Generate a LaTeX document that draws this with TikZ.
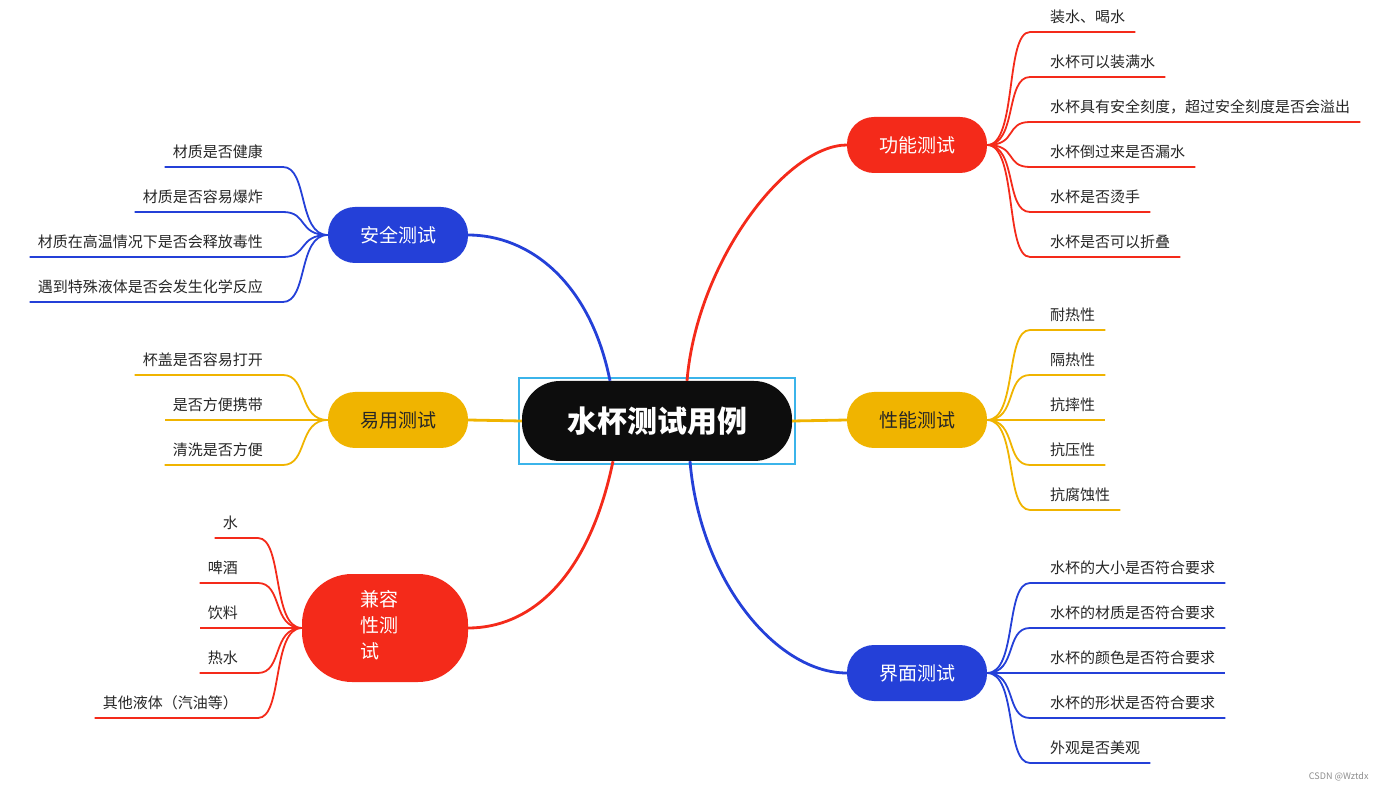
\documentclass[tikz,border=0pt]{standalone}
\usepackage{fontspec}
\setmainfont{Noto Sans CJK SC}
\usetikzlibrary{positioning,calc}
\definecolor{red}{HTML}{F42A1A}
\definecolor{blue}{HTML}{2440D8}
\definecolor{yellow}{HTML}{F0B400}
\definecolor{frame}{HTML}{3BB4EA}
\tikzset{
  branch/.style={rounded corners=27pt, minimum width=140pt, minimum height=56pt, text=white, font=\fontsize{19}{21}\selectfont},
  leaf/.style={inner xsep=0pt, inner ysep=8pt, font=\fontsize{15}{17}\selectfont, text=black!85},
  wire/.style={line width=1.8pt},
  trunk/.style={line width=2.8pt}
}
\begin{document}
\begin{tikzpicture}[x=1pt,y=-1pt]
  \useasboundingbox (0,0) rectangle (1382,791);

  % centre
  \node[draw=frame, line width=1.5pt, minimum width=276pt, minimum height=86pt] (frame) at (657,421) {};
  \node[fill=black!95, rounded corners=38pt, minimum width=270pt, minimum height=80pt, text=white, font=\fontsize{30}{32}\selectfont\bfseries] (root) at (657,421) {水杯测试用例};

  % branches
  \node[branch, fill=red] (func) at (917,145) {功能测试};
  \node[branch, fill=yellow, text=black!85] (perf) at (917,420) {性能测试};
  \node[branch, fill=blue] (ui) at (917,673) {界面测试};
  \node[branch, fill=blue] (safe) at (398,235) {安全测试};
  \node[branch, fill=yellow, text=black!85] (easy) at (398,420) {易用测试};
  \node[branch, fill=red, rounded corners=50pt, minimum width=166pt, minimum height=108pt] (compat) at (385,628) {};
  \node[text=white, font=\fontsize{19}{26}\selectfont, align=left, anchor=north west] (compat text) at (357,587) {兼容\\性测\\试};

  % root to branches
  \draw[trunk, red] ($(root.north)+(30,0)$) .. controls +(10,-120) and +(-60,0) .. (func.west);
  \draw[trunk, blue] ($(root.north)+(-47,0)$) .. controls +(-20,-100) and +(60,0) .. (safe.east);
  \draw[trunk, yellow] (root.east) -- (perf.west);
  \draw[trunk, yellow] (root.west) -- (easy.east);
  \draw[trunk, blue] ($(root.south)+(33,0)$) .. controls +(10,120) and +(-70,0) .. (ui.west);
  \draw[trunk, red] ($(root.south)+(-44,0)$) .. controls +(-25,120) and +(60,0) .. (compat.east);

  % right leaves
  \foreach \name/\col/\y/\txt in {
      func/red/32/装水、喝水, func/red/77/水杯可以装满水, func/red/122/水杯具有安全刻度，超过安全刻度是否会溢出,
      func/red/167/水杯倒过来是否漏水, func/red/212/水杯是否烫手, func/red/257/水杯是否可以折叠,
      perf/yellow/330/耐热性, perf/yellow/375/隔热性, perf/yellow/420/抗摔性, perf/yellow/465/抗压性, perf/yellow/510/抗腐蚀性,
      ui/blue/583/水杯的大小是否符合要求, ui/blue/628/水杯的材质是否符合要求, ui/blue/673/水杯的颜色是否符合要求,
      ui/blue/718/水杯的形状是否符合要求, ui/blue/763/外观是否美观} {
    \node[leaf, anchor=south west] (\name-\y) at (1030,\y) {\kern20pt\txt\kern10pt};
    \draw[wire, \col] (\name.east) .. controls +(30,0) and +(-25,0) .. (\name-\y.south west) -- (\name-\y.south east);
  }

  % left leaves
  \foreach \name/\col/\x/\y/\txt in {
      safe/blue/283/167/材质是否健康, safe/blue/283/212/材质是否容易爆炸,
      safe/blue/283/257/材质在高温情况下是否会释放毒性, safe/blue/283/302/遇到特殊液体是否会发生化学反应,
      easy/yellow/283/375/杯盖是否容易打开, easy/yellow/283/420/是否方便携带, easy/yellow/283/465/清洗是否方便,
      compat/red/258/538/水, compat/red/258/583/啤酒, compat/red/258/628/饮料, compat/red/258/673/热水,
      compat/red/258/718/其他液体（汽油等）} {
    \node[leaf, anchor=south east] (\name-\y) at (\x,\y) {\kern8pt\txt\kern20pt};
    \draw[wire, \col] (\name.west) .. controls +(-30,0) and +(25,0) .. (\name-\y.south east) -- (\name-\y.south west);
  }

  % watermark
  \node[anchor=south east, text=black!45, font=\fontsize{9}{10}\selectfont] (mark) at (1372,785) {CSDN @Wztdx};
\end{tikzpicture}
\end{document}
